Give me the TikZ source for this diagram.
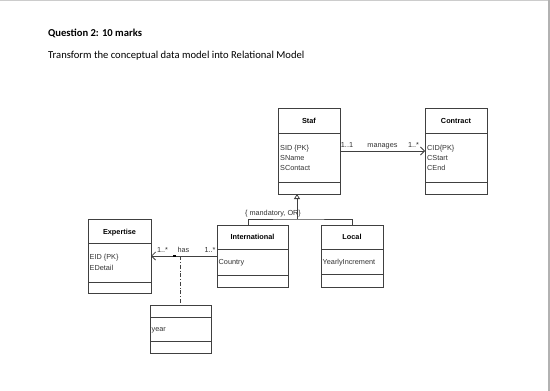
\documentclass[tikz,border=0pt]{standalone}
\usepackage{fontspec}
\setmainfont{Carlito}
\newfontfamily\umlfont{Liberation Sans}
\usetikzlibrary{arrows.meta,shadows,calc}
\definecolor{linec}{HTML}{404040}
\definecolor{txtc}{HTML}{333333}
\begin{document}
\begin{tikzpicture}[x=1pt,y=-1pt,
  cls/.style={draw=linec, line width=0.8pt, fill=white,
    drop shadow={shadow xshift=1.4pt,shadow yshift=-1.4pt,fill=black!28},
    inner sep=0pt, outer sep=0pt},
  hdr/.style={font=\umlfont\bfseries\fontsize{7.3}{8}\selectfont, text=black, anchor=base, inner sep=0pt},
  attr/.style={font=\umlfont\fontsize{7.3}{8}\selectfont, text=txtc, anchor=base west, inner sep=0pt},
  lbl/.style={font=\umlfont\fontsize{7.3}{8}\selectfont, text=txtc, anchor=base, inner sep=0pt},
  conn/.style={draw=linec, line width=0.8pt},
  divl/.style={draw=linec, line width=0.8pt},
  ttl/.style={font=\fontsize{10.6}{12}\selectfont, anchor=base west, inner sep=0pt}]
\useasboundingbox (0,0) rectangle (550,391);
\fill[white] (0,0) rectangle (550,391);
% page edges
\draw[gray!40, line width=1pt] (0,0.5) -- (547.5,0.5);
\fill[gray!60] (547.5,0) rectangle (550,391);

% titles
\node[ttl, font=\bfseries\fontsize{10.6}{12}\selectfont] (q) at (48,36.5) {Question 2: 10 marks};
\node[ttl] (t) at (48,58) {Transform the conceptual data model into Relational Model};

% Staf
\node[cls, minimum width=62pt, minimum height=86pt] (staf) at (309,151) {};
\draw[divl] (staf.west |- 0,133) -- (staf.east |- 0,133);
\draw[divl] (staf.west |- 0,182) -- (staf.east |- 0,182);
\node[hdr] (stafh) at (309,123.1) {Staf};
\node[attr] (stafa1) at (280,150.6) {SID \{PK\}};
\node[attr] (stafa2) at (280,160.3) {SName};
\node[attr] (stafa3) at (280,170) {SContact};

% Contract
\node[cls, minimum width=62pt, minimum height=86pt] (contract) at (456,151) {};
\draw[divl] (contract.west |- 0,133) -- (contract.east |- 0,133);
\draw[divl] (contract.west |- 0,182) -- (contract.east |- 0,182);
\node[hdr] (contracth) at (456,123.1) {Contract};
\node[attr] (contracta1) at (427,150.6) {CID\{PK\}};
\node[attr] (contracta2) at (427,160.3) {CStart};
\node[attr] (contracta3) at (427,170) {CEnd};

% International
\node[cls, minimum width=71pt, minimum height=62pt] (international) at (252.5,256) {};
\draw[divl] (international.west |- 0,249) -- (international.east |- 0,249);
\draw[divl] (international.west |- 0,275) -- (international.east |- 0,275);
\node[hdr] (internationalh) at (252.5,239.6) {International};
\node[attr] (internationala1) at (218.5,264.6) {Country};

% Local
\node[cls, minimum width=62pt, minimum height=62pt] (local) at (352,256) {};
\draw[divl] (local.west |- 0,249) -- (local.east |- 0,249);
\draw[divl] (local.west |- 0,274) -- (local.east |- 0,274);
\node[hdr] (localh) at (352,239.6) {Local};
\node[attr] (locala1) at (322.5,264.6) {YearlyIncrement};

% Expertise
\node[cls, minimum width=63pt, minimum height=74pt] (expertise) at (119.5,256) {};
\draw[divl] (expertise.west |- 0,243) -- (expertise.east |- 0,243);
\draw[divl] (expertise.west |- 0,282) -- (expertise.east |- 0,282);
\node[hdr] (expertiseh) at (119.5,234.3) {Expertise};
\node[attr] (expertisea1) at (89.5,259.6) {EID \{PK\}};
\node[attr] (expertisea2) at (89.5,270.6) {EDetail};

% year (association class)
\node[cls, minimum width=61pt, minimum height=48pt] (year) at (180.5,329) {};
\draw[divl] (year.west |- 0,317) -- (year.east |- 0,317);
\draw[divl] (year.west |- 0,341) -- (year.east |- 0,341);
\node[attr] (yeara1) at (151.5,331.6) {year};

% manages
\draw[conn, -{Straight Barb[length=4pt,width=8pt]}] (staf.east) -- (contract.west);
\node[lbl] (m1) at (347,147.6) {1..1};
\node[lbl] (m2) at (382.5,147.6) {manages};
\node[lbl] (m3) at (413.5,147.6) {1..*};

% has
\draw[conn, -{Straight Barb[length=4pt,width=8pt]}] (international.west) -- (expertise.east);
\node[lbl] (h1) at (162.5,252.6) {1..*};
\node[lbl] (h2) at (183.5,252.6) {has};
\node[lbl] (h3) at (210,252.6) {1..*};
\coordinate (hasm) at (year.north |- international.west);
\draw[draw=linec, line width=0.6pt, dash pattern=on 4pt off 2pt on 0.6pt off 2pt] (hasm) -- (year.north);
\node[fill=black, minimum size=2.6pt, inner sep=0pt] (hsq) at ($(hasm)+(-6,0)$) {};

% generalization
\coordinate (gtip) at ($(staf.south)+(-12,0)$);
\coordinate (gjoin) at ($(gtip)+(0,25)$);
\draw[conn, -{Triangle[open,length=5pt,width=6pt]}] (gjoin) -- (gtip);
\draw[conn] ([xshift=-4.5pt]international.north) |- (gjoin) -| (local.north);
\node[lbl] (gl) at (273,215.5) {\{ mandatory, OR\}};
\end{tikzpicture}
\end{document}
